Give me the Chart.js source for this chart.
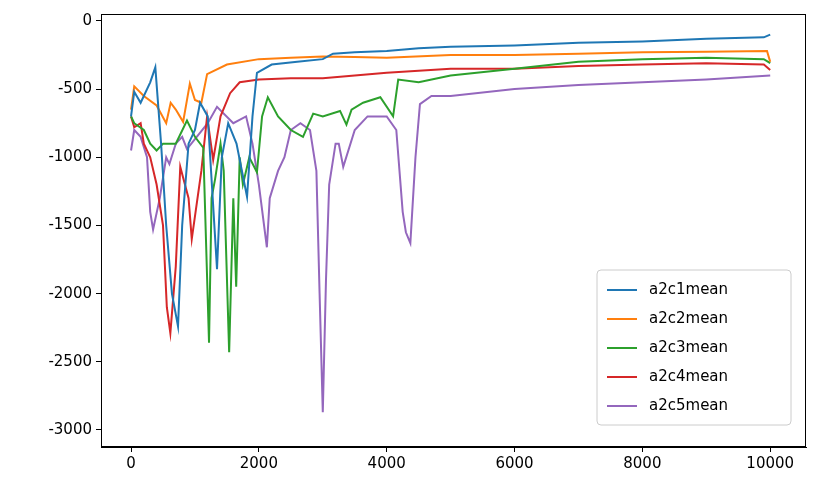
<!DOCTYPE html>
<html><head><meta charset="utf-8">
<script src="https://cdn.jsdelivr.net/npm/chart.js@4"></script>
<style>body{margin:0;background:#fff}#wrap{width:816px;height:480px}</style>
</head><body><div id="wrap"><canvas id="c"></canvas></div>
<script>
const seriesNames = ['a2c1mean', 'a2c2mean', 'a2c3mean', 'a2c4mean', 'a2c5mean'];
const seriesColors = ['#1f77b4', '#ff7f0e', '#2ca02c', '#d62728', '#9467bd'];
const yTicks = [0, -500, -1000, -1500, -2000, -2500, -3000];
const xTicks = [0, 2000, 4000, 6000, 8000, 10000];

const a1X = [0, 50, 150, 300, 380, 470, 550, 640, 735, 800, 900, 1000, 1080, 1200, 1345, 1420, 1520, 1650, 1815, 1900, 1970, 2200, 2600, 3000, 3160, 3500, 4000, 4500, 5000, 6000, 7000, 8000, 9000, 9900, 10000];
const a1Y = [-700, -520, -600, -450, -340, -900, -1500, -2000, -2240, -1500, -900, -800, -600, -700, -1820, -1000, -750, -900, -1290, -700, -380, -320, -300, -280, -240, -230, -220, -200, -190, -180, -160, -150, -130, -120, -100];
const a2X = [0, 50, 200, 400, 550, 620, 700, 815, 920, 1000, 1100, 1190, 1500, 2000, 2500, 3000, 3500, 4000, 5000, 6000, 7000, 8000, 9000, 9950, 10000];
const a2Y = [-650, -480, -550, -620, -750, -600, -650, -740, -460, -580, -600, -390, -320, -280, -270, -260, -265, -270, -250, -250, -240, -230, -225, -220, -300];
const a3X = [0, 50, 200, 300, 400, 500, 700, 875, 1000, 1130, 1220, 1260, 1315, 1400, 1450, 1535, 1600, 1645, 1700, 1750, 1850, 1970, 2050, 2140, 2300, 2500, 2690, 2850, 3000, 3270, 3370, 3450, 3630, 3900, 4100, 4180, 4500, 5000, 6000, 7000, 8000, 9000, 9900, 10000];
const a3Y = [-700, -750, -800, -900, -950, -900, -900, -730, -850, -930, -2360, -1300, -1160, -900, -1100, -2430, -1300, -1950, -1000, -1200, -1000, -1110, -700, -560, -700, -800, -850, -680, -700, -660, -760, -650, -600, -560, -700, -430, -450, -400, -350, -300, -280, -270, -280, -310];
const a4X = [0, 50, 150, 200, 300, 400, 500, 560, 615, 700, 770, 900, 950, 1100, 1190, 1285, 1400, 1550, 1700, 2000, 2500, 3000, 3500, 4000, 5000, 6000, 7000, 8000, 9000, 9900, 10000];
const a4Y = [-700, -780, -750, -900, -1000, -1200, -1500, -2100, -2290, -1800, -1070, -1300, -1600, -1100, -700, -1020, -700, -530, -450, -430, -420, -420, -400, -380, -350, -350, -330, -320, -310, -320, -360];
const a5X = [0, 50, 150, 250, 300, 345, 450, 550, 600, 700, 800, 875, 1200, 1345, 1600, 1800, 1900, 2000, 2125, 2170, 2300, 2400, 2500, 2650, 2800, 2900, 2950, 3000, 3050, 3100, 3200, 3250, 3320, 3500, 3700, 4000, 4150, 4250, 4300, 4370, 4450, 4520, 4700, 5000, 6000, 7000, 8000, 9000, 10000];
const a5Y = [-950, -800, -850, -1000, -1400, -1530, -1300, -1000, -1050, -900, -850, -940, -750, -630, -750, -700, -900, -1200, -1660, -1300, -1100, -1000, -800, -750, -800, -1100, -2000, -2870, -1900, -1200, -900, -900, -1070, -800, -700, -700, -800, -1400, -1550, -1630, -1000, -610, -550, -550, -500, -470, -450, -430, -400];

const allX = [a1X, a2X, a3X, a4X, a5X];
const allY = [a1Y, a2Y, a3Y, a4Y, a5Y];

const datasets = seriesNames.map((name, i) => ({
  label: name,
  data: allX[i].map((x, j) => ({x: x, y: allY[i][j]})),
  borderColor: seriesColors[i],
  backgroundColor: seriesColors[i],
  borderWidth: 2,
  pointRadius: 0,
  tension: 0
}));

// matplotlib-like frame and legend box inside the plot
const framePlugin = {
  id: 'frame',
  afterDraw(chart) {
    const {ctx, chartArea: a} = chart;
    ctx.save();
    ctx.strokeStyle = '#000';
    ctx.lineWidth = 1;
    ctx.strokeRect(a.left + 0.5, a.top + 0.5, a.right - a.left - 1, a.bottom - a.top - 1);
    const bx = 597, by = 270, bw = 194, bh = 155;
    ctx.fillStyle = 'rgba(255,255,255,0.85)';
    ctx.strokeStyle = '#ccc';
    ctx.beginPath();
    ctx.roundRect(bx, by, bw, bh, 4);
    ctx.fill();
    ctx.stroke();
    ctx.font = '15px "DejaVu Sans"';
    ctx.textBaseline = 'middle';
    seriesNames.forEach((name, i) => {
      const y = by + 20 + i * 29;
      ctx.strokeStyle = seriesColors[i];
      ctx.lineWidth = 2;
      ctx.beginPath();
      ctx.moveTo(bx + 10, y);
      ctx.lineTo(bx + 40, y);
      ctx.stroke();
      ctx.fillStyle = '#000';
      ctx.fillText(name, bx + 52, y);
    });
    ctx.restore();
  }
};

new Chart(document.getElementById('c'), {
  type: 'line',
  data: {datasets: datasets},
  plugins: [framePlugin],
  options: {
    responsive: true,
    maintainAspectRatio: false,
    animation: false,
    layout: {padding: {top: 14, right: 10, left: 0, bottom: 0}},
    plugins: {legend: {display: false}, tooltip: {enabled: false}},
    scales: {
      x: {
        type: 'linear', min: -470, max: 10560,
        afterBuildTicks: s => { s.ticks = xTicks.map(v => ({value: v})); },
        afterFit: s => { s.height = 33; },
        grid: {drawOnChartArea: false, color: '#000', tickLength: 5},
        border: {color: '#000'},
        ticks: {color: '#000', font: {family: 'DejaVu Sans', size: 15}, maxRotation: 0, padding: 3,
          callback: v => String(v)}
      },
      y: {
        type: 'linear', min: -3125, max: 51,
        afterBuildTicks: s => { s.ticks = yTicks.map(v => ({value: v})); },
        afterFit: s => { s.width = 101; },
        grid: {drawOnChartArea: false, color: '#000', tickLength: 5},
        border: {color: '#000'},
        ticks: {color: '#000', font: {family: 'DejaVu Sans', size: 15}, padding: 4,
          callback: v => String(v)}
      }
    }
  }
});
</script></body></html>
